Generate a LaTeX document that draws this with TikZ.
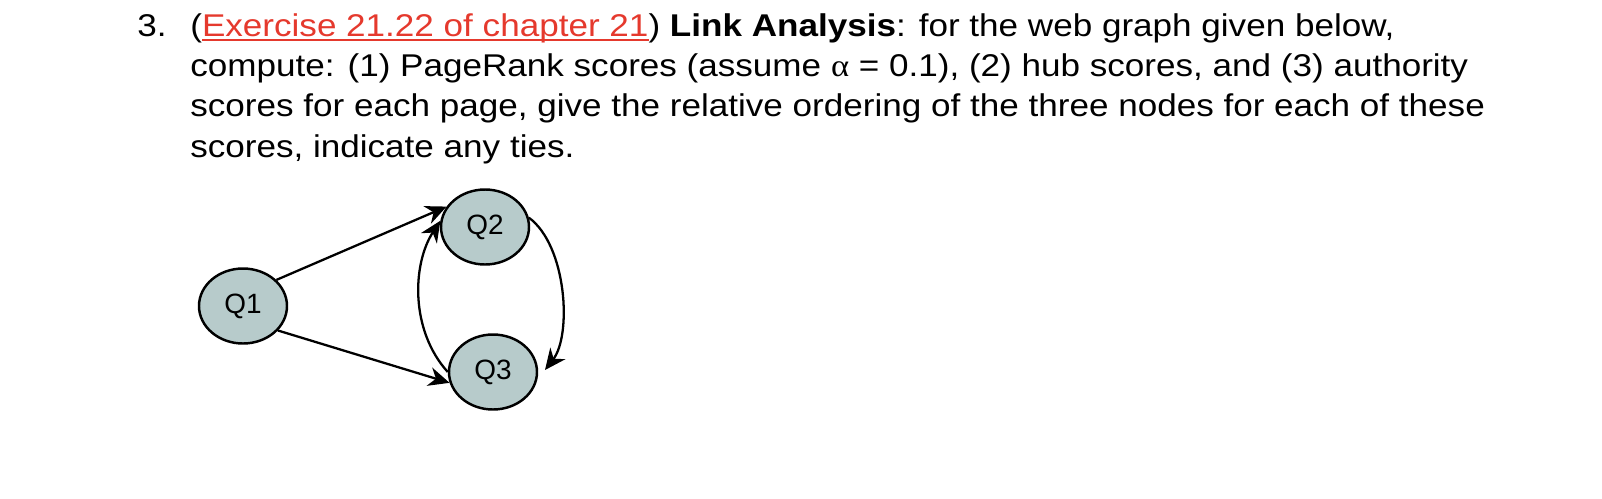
\documentclass[tikz,border=0pt]{standalone}
\usepackage{fontspec}
\setmainfont[FakeStretch=1.115]{Liberation Sans}
\newfontfamily\greekfont[FakeStretch=1.1]{Liberation Serif}
\newfontfamily\pagefont{Liberation Sans}
\usepackage{xcolor}
\usetikzlibrary{shapes.geometric,arrows.meta}

\definecolor{linkred}{RGB}{229,57,45}
\definecolor{pagefill}{RGB}{183,203,203}
% red underlined reference
\newcommand{\redlink}[1]{\setbox0\hbox{#1}\textcolor{linkred}{\rlap{\rule[-2.9pt]{\wd0}{1.1pt}}\box0}}

\begin{document}
\begin{tikzpicture}[x=0.2mm, y=-0.2mm,
  txt/.style={anchor=base west, inner sep=0pt, font=\fontsize{17.9}{21}\selectfont},
  page/.style={ellipse, draw, line width=1.4pt, fill=pagefill, minimum width=17.6mm,
    minimum height=15mm, inner sep=0pt, font=\pagefont\fontsize{15.9}{18}\selectfont},
  link/.style={line width=1.3pt, -{Stealth[length=4.2mm,width=3.8mm]}}]
 \useasboundingbox (0,0) rectangle (1602,498);
 % question text
 \node[txt] (num) at (137,36) {3.};
 \node[txt] (l1) at (190,36) {(\redlink{\textcolor{linkred}{Exercise 21.22 of chapter 21}}) \textbf{Link Analysis}: for the web graph given below,};
 \node[txt] (l2) at (190,76.3) {compute: (1) PageRank scores (assume {\greekfont α} = 0.1), (2) hub scores, and (3) authority};
 \node[txt] (l3) at (190,116.6) {scores for each page, give the relative ordering of the three nodes for each of these};
 \node[txt] (l4) at (190,157) {scores, indicate any ties.};
 % web graph
 \node[page] (Q1) at (243,306) {Q1};
 \node[page] (Q2) at (485,227) {Q2};
 \node[page] (Q3) at (493,372) {Q3};
 \coordinate (q3tip) at (545,370);
 \draw[link] (Q1.38) -- (Q2.152);
 \draw[link] (Q1.-35) -- (Q3.194);
 \draw[link] (Q3.180) .. controls +(-38,-42) and +(-28,43) .. (Q2.172);
 \draw[link] (Q2.12) .. controls +(38,28) and +(27,-35) .. (q3tip);
\end{tikzpicture}
\end{document}
